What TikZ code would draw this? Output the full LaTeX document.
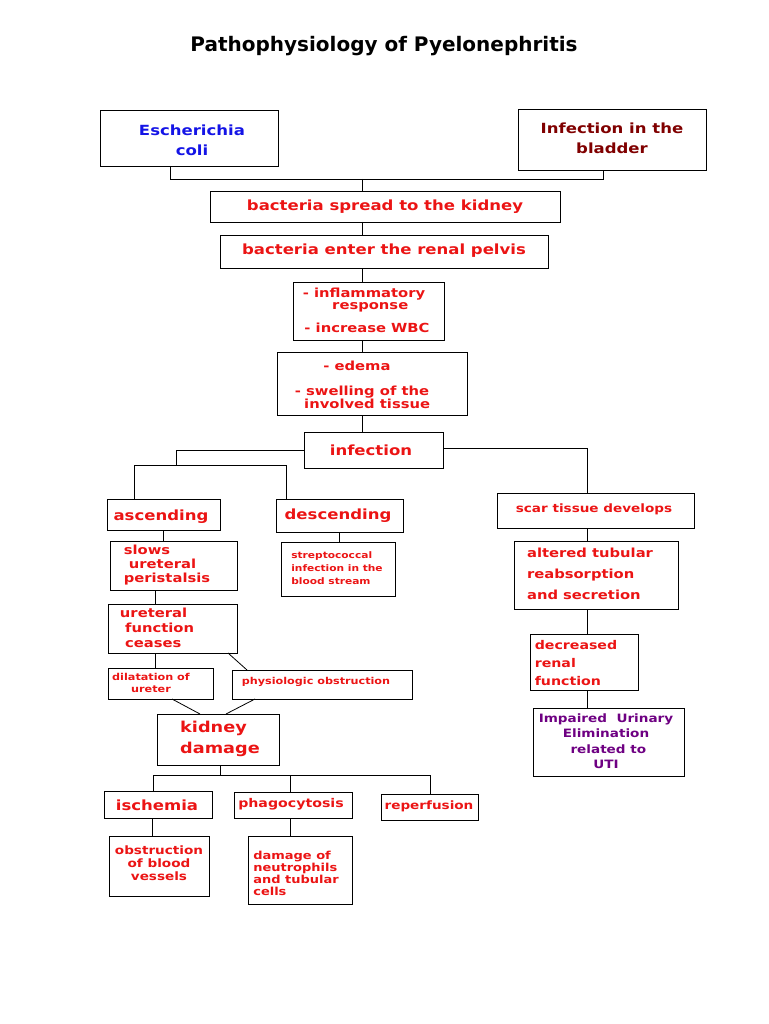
\documentclass[tikz,border=0pt]{standalone}
\usepackage{fontspec}
\setmainfont[FakeStretch=1.18]{DejaVu Sans}
\newfontfamily\titlefont{DejaVu Sans}
\definecolor{rd}{RGB}{235,20,20}
\definecolor{dr}{RGB}{128,0,0}
\definecolor{bl}{RGB}{20,20,230}
\definecolor{pu}{RGB}{110,0,130}
\begin{document}
\begin{tikzpicture}[x=1pt,y=-1pt,
 bx/.style={draw,line width=0.8pt,inner sep=0pt},
 tx/.style={text=rd,font=\bfseries\fontsize{14}{15}\selectfont,align=center},
 sm/.style={text=rd,font=\bfseries\fontsize{9.5}{11.5}\selectfont,align=center},
 ln/.style={line width=0.8pt}]
\useasboundingbox (0,0) rectangle (768,1024);
\node[font=\titlefont\bfseries\fontsize{20}{22}\selectfont] (title) at (384,46) {Pathophysiology of Pyelonephritis};
\newcommand\bx[5]{\draw[bx] (#2,#3) rectangle (#4,#5); \coordinate (#1) at ({(#2+#4)/2},{(#3+#5)/2});}
\bx{ec}{100}{110}{278}{166}
\node[tx,text=bl,font=\bfseries\fontsize{14}{20}\selectfont] (ect) at (192,140) {Escherichia\\coli};
\bx{ib}{518}{109}{706}{170}
\node[tx,text=dr,font=\bfseries\fontsize{14}{20}\selectfont] (ibt) at (612,138) {Infection in the\\bladder};
\bx{bs}{210}{191}{560}{222}
\node[tx] (bst) at (bs) {bacteria spread to the kidney};
\bx{be}{220}{235}{548}{268}
\node[tx] (bet) at (384,251) {bacteria enter the renal pelvis};
\bx{ir}{293}{282}{444}{340}
\node[tx,font=\bfseries\fontsize{12.5}{12}\selectfont] (irt) at (364,300) {- inflammatory\\\quad response};
\node[tx,font=\bfseries\fontsize{12.5}{12}\selectfont] (irt2) at (367,328) {- increase WBC};
\bx{ed}{277}{352}{467}{415}
\node[tx,font=\bfseries\fontsize{12.5}{12}\selectfont] (edt) at (357,366) {- edema};
\node[tx,font=\bfseries\fontsize{12.5}{13}\selectfont] (edt2) at (362,397) {- swelling of the\\\ \ involved tissue};
\bx{inf}{304}{432}{443}{468}
\node[tx] (inft) at (371,450) {infection};
\bx{as}{107}{499}{220}{530}
\node[tx] (ast) at (161,517) {ascending};
\bx{de}{276}{499}{403}{532}
\node[tx] (det) at (338,516) {descending};
\bx{sc}{497}{493}{694}{528}
\node[tx,font=\bfseries\fontsize{11.5}{13}\selectfont] (sct) at (594,509) {scar tissue develops};
\bx{sl}{110}{541}{237}{590}
\node[tx,font=\bfseries\fontsize{12.5}{14}\selectfont,align=left] (slt) at (167,565) {slows\\\ ureteral\\ peristalsis};
\bx{st}{281}{542}{395}{596}
\node[sm,font=\bfseries\fontsize{9}{13}\selectfont,align=left] (stt) at (337,568) {streptococcal\\infection in the\\blood stream};
\bx{uf}{108}{604}{237}{653}
\node[tx,font=\bfseries\fontsize{12.5}{15}\selectfont,align=left] (uft) at (157,628) {ureteral\\\ function\\\ ceases};
\bx{di}{108}{668}{213}{699}
\node[sm] (dit) at (151,683) {dilatation of\\ureter};
\bx{po}{232}{670}{412}{699}
\node[sm] (pot) at (316,682) {physiologic obstruction};
\bx{kd}{157}{714}{279}{765}
\node[tx,font=\bfseries\fontsize{15}{21}\selectfont,align=left] (kdt) at (220,739) {kidney\\damage};
\bx{is}{104}{791}{212}{818}
\node[tx] (ist) at (157,805) {ischemia};
\bx{ph}{234}{792}{352}{818}
\node[tx,font=\bfseries\fontsize{12}{14}\selectfont] (pht) at (291,804) {phagocytosis};
\bx{rp}{381}{794}{478}{820}
\node[tx,font=\bfseries\fontsize{11.5}{14}\selectfont] (rpt) at (429,806) {reperfusion};
\bx{ob}{109}{836}{209}{896}
\node[tx,font=\bfseries\fontsize{11.5}{13}\selectfont] (obt) at (159,863) {obstruction\\of blood\\vessels};
\bx{dn}{248}{836}{352}{904}
\node[tx,font=\bfseries\fontsize{11}{12}\selectfont,align=left] (dnt) at (296,873) {damage of\\neutrophils\\and tubular\\cells};
\bx{at}{514}{541}{678}{609}
\node[tx,font=\bfseries\fontsize{12.5}{21}\selectfont,align=left] (att) at (590,574) {altered tubular\\reabsorption\\and secretion};
\bx{dc}{530}{634}{638}{690}
\node[tx,font=\bfseries\fontsize{12}{18}\selectfont,align=left] (dct) at (576,663) {decreased\\renal\\function};
\bx{ie}{533}{708}{684}{776}
\node[tx,text=pu,font=\bfseries\fontsize{11.5}{15.5}\selectfont] (iet) at (606,741) {Impaired \ Urinary\\Elimination\\\ related to\\UTI};
% connectors
\coordinate (j1) at (170,179); \coordinate (j2) at (603,179); \coordinate (j3) at (362,179);
\draw[ln] (170,166) -- (j1) -- (j2) -- (603,170);
\draw[ln] (j3) -- (362,191);
\draw[ln] (362,222) -- (362,235);
\draw[ln] (362,268) -- (362,282);
\draw[ln] (362,340) -- (362,352);
\draw[ln] (362,415) -- (362,432);
\draw[ln] (304,450) -- (176,450) -- (176,465);
\draw[ln] (134,499) -- (134,465) -- (286,465) -- (286,499);
\draw[ln] (443,448) -- (587,448) -- (587,493);
\draw[ln] (163,530) -- (163,541);
\draw[ln] (339,532) -- (339,542);
\draw[ln] (155,590) -- (155,604);
\draw[ln] (155,653) -- (155,668);
\draw[ln] (228,653) -- (247,670);
\draw[ln] (172,699) -- (200,714);
\draw[ln] (255,699) -- (226,714);
\draw[ln] (220,765) -- (220,775);
\draw[ln] (153,791) -- (153,775) -- (430,775) -- (430,794);
\draw[ln] (290,775) -- (290,792);
\draw[ln] (152,818) -- (152,836);
\draw[ln] (290,818) -- (290,836);
\draw[ln] (587,528) -- (587,541);
\draw[ln] (587,609) -- (587,634);
\draw[ln] (587,690) -- (587,708);
\end{tikzpicture}
\end{document}
